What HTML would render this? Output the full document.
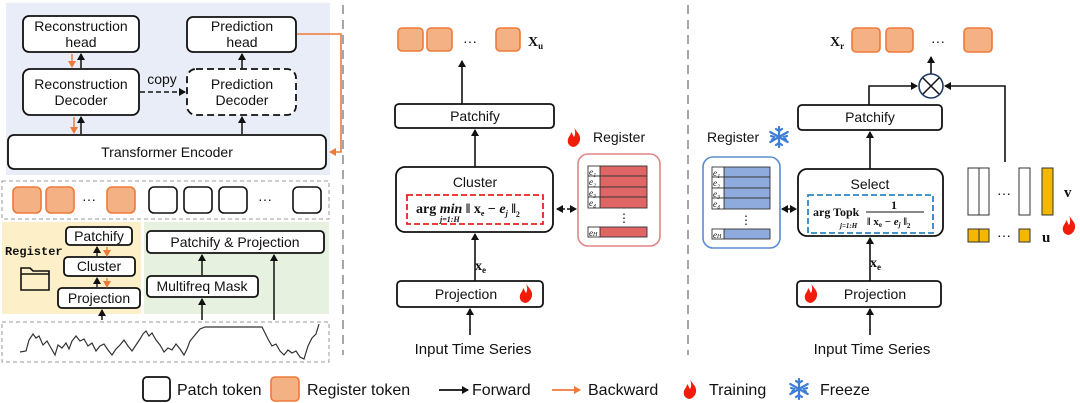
<!DOCTYPE html>
<html><head><meta charset="utf-8"><style>
html,body{margin:0;padding:0;background:#fff;}
svg{display:block;font-family:"Liberation Sans",sans-serif;}
.b{fill:#fff;stroke:#111;stroke-width:1.8;}
.t{font-size:14px;fill:#111;text-anchor:middle;}
.m{font-family:"Liberation Serif",serif;font-weight:bold;fill:#111;}
.lg{font-size:16px;fill:#111;}
</style></head><body>
<svg width="1080" height="403" viewBox="0 0 1080 403" xmlns="http://www.w3.org/2000/svg">
<defs>
<marker id="ab" markerWidth="8" markerHeight="8" refX="6" refY="4" orient="auto-start-reverse" markerUnits="userSpaceOnUse"><path d="M0,0 L7,4 L0,8 z" fill="#111"/></marker>
<marker id="ao" markerWidth="8" markerHeight="8" refX="6" refY="4" orient="auto" markerUnits="userSpaceOnUse"><path d="M0,0 L7,4 L0,8 z" fill="#ee7a3a"/></marker>
<g id="fire"><path d="M7,0 C9,5 14,7 13,13 C12,18 8,20 6,20 C2,19 0,16 1,12 C2,9 4,8 4,5 C6,7 6,9 7,10 C9,7 8,3 7,0 z" fill="#f21c0a"/></g>
<g id="snow" stroke="#3f7ed6" stroke-width="2.2" stroke-linecap="round" fill="none"><path d="M10,0 V20 M1.3,5 L18.7,15 M1.3,15 L18.7,5 M7,2 L10,4 L13,2 M7,18 L10,16 L13,18 M2,9 L5,10 L3,13 M18,9 L15,10 L17,13"/></g>
</defs>

<!-- LEFT PANEL -->
<rect x="6" y="3" width="324" height="172" fill="#e9edf8"/>
<rect class="b" x="23" y="16" width="116" height="36" rx="6"/>
<text class="t" x="81" y="31">Reconstruction</text><text class="t" x="81" y="47">head</text>
<rect class="b" x="187" y="17" width="109" height="35" rx="6"/>
<text class="t" x="242" y="31">Prediction</text><text class="t" x="242" y="47">head</text>
<rect class="b" x="23" y="69" width="116" height="46" rx="7"/>
<text class="t" x="81" y="89">Reconstruction</text><text class="t" x="81" y="105">Decoder</text>
<rect x="187" y="69" width="109" height="46" rx="9" fill="#fff" stroke="#111" stroke-width="1.8" stroke-dasharray="7,4"/>
<text class="t" x="242" y="89">Prediction</text><text class="t" x="242" y="105">Decoder</text>
<rect class="b" x="8" y="135" width="318" height="34" rx="6"/>
<text class="t" x="167" y="157">Transformer Encoder</text>
<text class="t" x="162" y="84">copy</text>
<line x1="140" y1="92" x2="185" y2="92" stroke="#111" stroke-width="1.6" stroke-dasharray="5,3" marker-end="url(#ab)"/>
<line x1="81" y1="68" x2="81" y2="54" stroke="#111" stroke-width="1.5" marker-end="url(#ab)"/>
<line x1="72" y1="54" x2="72" y2="67" stroke="#ee7a3a" stroke-width="1.5" marker-end="url(#ao)"/>
<line x1="81" y1="134" x2="81" y2="117" stroke="#111" stroke-width="1.5" marker-end="url(#ab)"/>
<line x1="74" y1="117" x2="74" y2="133" stroke="#ee7a3a" stroke-width="1.5" marker-end="url(#ao)"/>
<line x1="242" y1="68" x2="242" y2="54" stroke="#111" stroke-width="1.5" marker-end="url(#ab)"/>
<line x1="242" y1="134" x2="242" y2="117" stroke="#111" stroke-width="1.5" marker-end="url(#ab)"/>
<polyline points="297,34 341,34 341,152 330,152" fill="none" stroke="#ee7a3a" stroke-width="1.6" marker-end="url(#ao)"/>

<rect x="2" y="181" width="327" height="38" fill="none" stroke="#999" stroke-dasharray="4,3"/>
<g fill="#f4b183" stroke="#ee7a3a" stroke-width="1.6">
<rect x="13" y="187" width="28" height="26" rx="5"/><rect x="46" y="187" width="28" height="26" rx="5"/><rect x="107" y="187" width="28" height="26" rx="5"/></g>
<g fill="#fff" stroke="#111" stroke-width="1.6">
<rect x="149" y="187" width="28" height="26" rx="5"/><rect x="184" y="187" width="28" height="26" rx="5"/><rect x="219" y="187" width="28" height="26" rx="5"/><rect x="293" y="187" width="28" height="26" rx="5"/></g>
<text class="t" x="89" y="204">···</text><text class="t" x="265" y="204">···</text>

<rect x="2" y="222" width="139" height="92" fill="#fdf0c9"/>
<rect x="144" y="222" width="185" height="92" fill="#e7f1df"/>
<rect class="b" x="66" y="227" width="66" height="18" rx="4"/><text class="t" x="99" y="241">Patchify</text>
<text x="5" y="255" style="font-family:'Liberation Mono',monospace;font-weight:bold;font-size:12px;fill:#111">Register</text>
<path d="M21,268 h9 l3,3 h16 v19 h-28 z M21,274 h28" fill="none" stroke="#111" stroke-width="1.6"/>
<rect class="b" x="64" y="257" width="71" height="19" rx="4"/><text class="t" x="99" y="271">Cluster</text>
<rect class="b" x="58" y="288" width="82" height="20" rx="4"/><text class="t" x="99" y="303">Projection</text>
<line x1="97" y1="256" x2="97" y2="247" stroke="#111" stroke-width="1.3" marker-end="url(#ab)"/>
<line x1="107" y1="247" x2="107" y2="256" stroke="#ee7a3a" stroke-width="1.3" marker-end="url(#ao)"/>
<line x1="97" y1="287" x2="97" y2="278" stroke="#111" stroke-width="1.3" marker-end="url(#ab)"/>
<line x1="107" y1="278" x2="107" y2="287" stroke="#ee7a3a" stroke-width="1.3" marker-end="url(#ao)"/>
<line x1="102" y1="320" x2="102" y2="310" stroke="#111" stroke-width="1.5" marker-end="url(#ab)"/>
<rect class="b" x="147" y="231" width="177" height="22" rx="4"/><text class="t" x="235" y="247">Patchify &amp; Projection</text>
<rect class="b" x="147" y="276" width="111" height="21" rx="4"/><text class="t" x="202" y="291">Multifreq Mask</text>
<line x1="202" y1="320" x2="202" y2="299" stroke="#111" stroke-width="1.5" marker-end="url(#ab)"/>
<line x1="202" y1="275" x2="202" y2="255" stroke="#111" stroke-width="1.5" marker-end="url(#ab)"/>
<line x1="274" y1="320" x2="274" y2="255" stroke="#111" stroke-width="1.5" marker-end="url(#ab)"/>
<rect x="2" y="322" width="327" height="40" fill="none" stroke="#999" stroke-dasharray="4,3"/>
<polyline fill="none" stroke="#333" stroke-width="1.2" points="20,352 26,351 29,340 33,334 36,338 39,336 43,345 47,341 51,348 55,355 58,345 62,348 66,343 69,349 72,341 76,336 80,341 84,339 88,346 92,343 96,351 100,346 104,344 108,350 112,355 116,349 120,345 124,340 128,346 132,351 136,345 140,339 143,334 146,331 149,336 152,333 156,340 160,345 164,352 168,348 172,350 176,344 180,349 184,355 187,349 190,341 195,335 200,329 205,327 262,327 265,333 268,339 272,346 276,344 280,351 284,355 288,350 292,353 296,351 300,357 304,359 308,346 312,338 316,334 319,324"/>

<!-- MIDDLE -->
<line x1="343" y1="5" x2="343" y2="355" stroke="#888" stroke-width="1.5" stroke-dasharray="9,6"/>
<g fill="#f4b183" stroke="#ee7a3a" stroke-width="1.6">
<rect x="398" y="28" width="25" height="23" rx="4"/><rect x="427" y="28" width="25" height="23" rx="4"/><rect x="496" y="28" width="24" height="23" rx="4"/></g>
<text class="t" x="470" y="46">···</text>
<text class="m" x="528" y="46" font-size="14">X<tspan font-size="9" dy="3">u</tspan></text>
<line x1="462" y1="104" x2="462" y2="61" stroke="#111" stroke-width="1.6" marker-end="url(#ab)"/>
<rect class="b" x="395" y="104" width="159" height="24" rx="4"/><text class="t" x="475" y="121">Patchify</text>
<line x1="475" y1="167" x2="475" y2="130" stroke="#111" stroke-width="1.6" marker-end="url(#ab)"/>
<use href="#fire" x="567" y="127"/>
<text x="593" y="142" style="font-size:14px;fill:#111">Register</text>
<rect class="b" x="396" y="167" width="157" height="65" rx="9"/>
<text class="t" x="475" y="187">Cluster</text>
<rect x="407" y="195" width="136" height="29" fill="none" stroke="#e8231e" stroke-width="1.8" stroke-dasharray="6,3"/>
<text class="m" x="416" y="213" font-size="14">arg <tspan font-style="italic">min</tspan> ‖ x<tspan font-size="8" dy="3">e</tspan><tspan dy="-3"> − </tspan><tspan font-style="italic">e</tspan><tspan font-size="8" dy="3" font-style="italic">j</tspan><tspan dy="-3"> ‖</tspan><tspan font-size="8" dy="4">2</tspan></text>
<text class="m" x="440" y="222" font-size="8" font-style="italic">j=1:H</text>
<line x1="557" y1="209" x2="576" y2="209" stroke="#111" stroke-width="1.4" stroke-dasharray="3,2" marker-start="url(#ab)" marker-end="url(#ab)"/>
<rect x="578" y="154" width="82" height="92" rx="10" fill="#fff" stroke="#e08585" stroke-width="1.6"/>
<g stroke="#333" stroke-width="0.9">
<g fill="#e06666"><rect x="600" y="166" width="47" height="10"/><rect x="600" y="176" width="47" height="11"/><rect x="600" y="187" width="47" height="10"/><rect x="600" y="197" width="47" height="11"/><rect x="600" y="227" width="47" height="10"/></g>
<g fill="#fff"><rect x="588" y="166" width="12" height="10"/><rect x="588" y="176" width="12" height="11"/><rect x="588" y="187" width="12" height="10"/><rect x="588" y="197" width="12" height="11"/><rect x="588" y="227" width="12" height="10"/></g></g>
<g font-family="Liberation Serif" font-style="italic" font-size="9" fill="#111"><text x="589" y="175">e₁</text><text x="589" y="185">e₂</text><text x="589" y="196">e₃</text><text x="589" y="206">e₄</text><text x="589" y="236">e<tspan font-size="6">H</tspan></text></g>
<text x="618" y="222" style="font-size:12px;fill:#111">⋮</text>
<text class="m" x="475" y="270" font-size="14">x<tspan font-size="9" dy="3">e</tspan></text>
<line x1="475" y1="281" x2="475" y2="234" stroke="#111" stroke-width="1.6" marker-end="url(#ab)"/>
<rect class="b" x="397" y="281" width="146" height="26" rx="4"/><text class="t" x="466" y="299">Projection</text>
<use href="#fire" x="519" y="283"/>
<line x1="470" y1="335" x2="470" y2="309" stroke="#111" stroke-width="1.6" marker-end="url(#ab)"/>
<text class="t" x="473" y="354" style="font-size:15px">Input Time Series</text>

<!-- RIGHT -->
<line x1="688" y1="5" x2="688" y2="355" stroke="#888" stroke-width="1.5" stroke-dasharray="9,6"/>
<text class="m" x="830" y="46" font-size="14">X<tspan font-size="9" dy="3">r</tspan></text>
<g fill="#f4b183" stroke="#ee7a3a" stroke-width="1.6">
<rect x="852" y="28" width="28" height="24" rx="4"/><rect x="886" y="28" width="27" height="24" rx="4"/><rect x="964" y="28" width="28" height="24" rx="4"/></g>
<text class="t" x="938" y="46">···</text>
<line x1="931" y1="74" x2="931" y2="57" stroke="#111" stroke-width="1.6" marker-end="url(#ab)"/>
<circle cx="931" cy="86" r="12" fill="#fff" stroke="#1f3a66" stroke-width="1.6"/>
<path d="M923,78 L939,94 M939,78 L923,94" stroke="#111" stroke-width="1.5"/>
<polyline points="869,105 869,86 917,86" fill="none" stroke="#111" stroke-width="1.6" marker-end="url(#ab)"/>
<polyline points="1005,162 1005,86 945,86" fill="none" stroke="#111" stroke-width="1.6" marker-end="url(#ab)"/>
<rect class="b" x="798" y="105" width="144" height="25" rx="4"/><text class="t" x="870" y="122">Patchify</text>
<line x1="870" y1="169" x2="870" y2="132" stroke="#111" stroke-width="1.6" marker-end="url(#ab)"/>
<text x="707" y="142" style="font-size:14px;fill:#111">Register</text>
<use href="#snow" x="769" y="127"/>
<rect x="703" y="157" width="77" height="91" rx="10" fill="#fff" stroke="#5b8bd0" stroke-width="1.6"/>
<g stroke="#333" stroke-width="0.9">
<g fill="#8faadc"><rect x="724" y="167" width="46" height="10"/><rect x="724" y="177" width="46" height="11"/><rect x="724" y="188" width="46" height="10"/><rect x="724" y="198" width="46" height="11"/><rect x="724" y="229" width="46" height="10"/></g>
<g fill="#fff"><rect x="712" y="167" width="12" height="10"/><rect x="712" y="177" width="12" height="11"/><rect x="712" y="188" width="12" height="10"/><rect x="712" y="198" width="12" height="11"/><rect x="712" y="229" width="12" height="10"/></g></g>
<g font-family="Liberation Serif" font-style="italic" font-size="9" fill="#111"><text x="713" y="176">e₁</text><text x="713" y="186">e₂</text><text x="713" y="197">e₃</text><text x="713" y="207">e₄</text><text x="713" y="238">e<tspan font-size="6">H</tspan></text></g>
<text x="740" y="224" style="font-size:12px;fill:#111">⋮</text>
<line x1="782" y1="209" x2="796" y2="209" stroke="#111" stroke-width="1.4" stroke-dasharray="3,2" marker-start="url(#ab)" marker-end="url(#ab)"/>
<rect class="b" x="798" y="169" width="145" height="67" rx="9"/>
<text class="t" x="870" y="189">Select</text>
<rect x="808" y="195" width="125" height="38" fill="none" stroke="#2e86c1" stroke-width="1.8" stroke-dasharray="6,3"/>
<text class="m" x="813" y="216" font-size="12">arg Topk</text>
<text class="m" x="840" y="228" font-size="7" font-style="italic">j=1:H</text>
<text class="m" x="894" y="209" font-size="12" text-anchor="middle">1</text>
<line x1="866" y1="212" x2="924" y2="212" stroke="#111" stroke-width="1"/>
<text class="m" x="867" y="225" font-size="11">‖ x<tspan font-size="7" dy="2">e</tspan><tspan dy="-2"> − </tspan><tspan font-style="italic">e</tspan><tspan font-size="7" dy="2" font-style="italic">j</tspan><tspan dy="-2"> ‖</tspan><tspan font-size="7" dy="3">2</tspan></text>
<g stroke="#333" stroke-width="1" fill="#fff"><rect x="968" y="168" width="11" height="47"/><rect x="979" y="168" width="10" height="47"/><rect x="1019" y="168" width="11" height="47"/></g>
<rect x="1042" y="168" width="11" height="47" fill="#f5b800" stroke="#333" stroke-width="1"/>
<g fill="#f5b800" stroke="#333" stroke-width="1"><rect x="968" y="229" width="11" height="13"/><rect x="979" y="229" width="10" height="13"/><rect x="1019" y="229" width="11" height="13"/></g>
<text class="t" x="1004" y="198">···</text><text class="t" x="1004" y="240">···</text>
<text class="m" x="1064" y="197" font-size="15">v</text>
<text class="m" x="1042" y="242" font-size="15">u</text>
<use href="#fire" x="1062" y="215"/>
<text class="m" x="870" y="267" font-size="14">x<tspan font-size="9" dy="3">e</tspan></text>
<line x1="870" y1="281" x2="870" y2="238" stroke="#111" stroke-width="1.6" marker-end="url(#ab)"/>
<rect class="b" x="797" y="281" width="144" height="26" rx="4"/><text class="t" x="875" y="299">Projection</text>
<use href="#fire" x="804" y="283"/>
<line x1="870" y1="335" x2="870" y2="309" stroke="#111" stroke-width="1.6" marker-end="url(#ab)"/>
<text class="t" x="872" y="354" style="font-size:15px">Input Time Series</text>

<!-- LEGEND -->
<rect x="143" y="377" width="27" height="24" rx="4" fill="#fff" stroke="#111" stroke-width="1.8"/>
<text x="177" y="395" class="lg">Patch token</text>
<rect x="271" y="377" width="28" height="24" rx="4" fill="#f4b183" stroke="#ee7a3a" stroke-width="1.6"/>
<text x="307" y="395" class="lg">Register token</text>
<line x1="439" y1="390" x2="468" y2="390" stroke="#111" stroke-width="1.8" marker-end="url(#ab)"/>
<text x="472" y="395" class="lg">Forward</text>
<line x1="552" y1="390" x2="580" y2="390" stroke="#ee7a3a" stroke-width="1.8" marker-end="url(#ao)"/>
<text x="588" y="395" class="lg">Backward</text>
<use href="#fire" x="683" y="379"/>
<text x="709" y="395" class="lg">Training</text>
<use href="#snow" x="789" y="379"/>
<text x="820" y="395" class="lg">Freeze</text>
</svg>
</body></html>
